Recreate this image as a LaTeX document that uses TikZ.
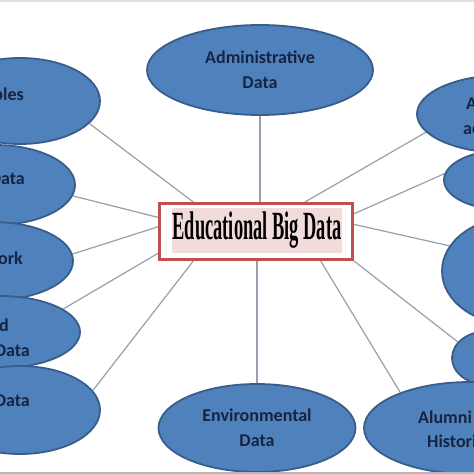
\documentclass[tikz,border=0pt]{standalone}
\usepackage{fontspec}
\setmainfont{Carlito}
\newfontfamily\titlefont{Liberation Serif}
\usetikzlibrary{shapes.geometric,calc,backgrounds}
\definecolor{ellfill}{RGB}{79,129,189}
\definecolor{ellborder}{RGB}{56,93,138}
\definecolor{elltext}{RGB}{22,36,66}
\definecolor{connc}{RGB}{150,160,174}
\definecolor{boxred}{RGB}{192,80,77}
\definecolor{titlepink}{RGB}{242,220,219}
\tikzset{
  ell/.style={ellipse, draw=ellborder, line width=1.8pt, fill=ellfill, inner sep=0pt,
    text=elltext, font=\bfseries\fontsize{18}{25}\selectfont, align=center},
  lbl/.style={text=elltext, font=\bfseries\fontsize{18}{25}\selectfont, inner sep=0pt},
  conn/.style={draw=connc, line width=1.2pt}
}
\begin{document}
\begin{tikzpicture}[x=1pt,y=-1pt]
\path[use as bounding box] (0,0) rectangle (474,474);
\clip (0,0) rectangle (474,474);

% ellipses
\node[ell, minimum width=226pt, minimum height=90pt] (admin) at (260,70) {Administrative\\Data};
\node[ell, minimum width=160pt, minimum height=86pt] (e1) at (20,101) {};
\node[ell, minimum width=160pt, minimum height=80pt] (e2) at (-5,185) {};
\node[ell, minimum width=160pt, minimum height=78pt] (e3) at (-7,261) {};
\node[ell, minimum width=160pt, minimum height=72pt] (e4) at (0,332) {};
\node[ell, minimum width=160pt, minimum height=88pt] (e5) at (20,410) {};
\node[ell, minimum width=176pt, minimum height=78pt] (r1) at (505,114) {};
\node[ell, minimum width=122pt, minimum height=60pt] (r2) at (505,180) {};
\node[ell, minimum width=146pt, minimum height=108pt] (r3) at (515,271) {};
\node[ell, minimum width=72pt, minimum height=54pt] (r4) at (488,358) {};
\node[ell, minimum width=212pt, minimum height=92pt] (alum) at (470,428) {};
\node[ell, minimum width=197pt, minimum height=88pt] (env) at (257,428) {Environmental\\Data};

% central box
\node[draw=boxred, line width=3pt, fill=white, minimum width=193pt, minimum height=56pt, inner sep=0pt] (box) at (256,231.5) {};
\node[fill=titlepink, minimum width=170pt, minimum height=45pt, inner sep=0pt] (title) at (257,230.5)
  {\titlefont\bfseries\fontsize{40}{40}\selectfont\scalebox{0.46}[1]{Educational Big Data}};

% connectors (behind)
\begin{scope}[on background layer]
\fill[white] (0,0) rectangle (474,474);
\draw[conn] (admin.south) -- (admin.south |- box.north);
\draw[conn] (env.north) -- (env.north |- box.south);
\draw[conn] ($(box.north west)!0.18!(box.north east)$) -- (e1.-18);
\draw[conn] ($(box.north west)!0.26!(box.south west)$) -- (e2.-8);
\draw[conn] ($(box.north west)!0.42!(box.south west)$) -- (e3.5);
\draw[conn] ($(box.north west)!0.87!(box.south west)$) -- (e4.20);
\draw[conn] ($(box.south west)!0.18!(box.south east)$) -- (e5.15);
\draw[conn] ($(box.north west)!0.75!(box.north east)$) -- (r1.193);
\draw[conn] ($(box.north east)!0.2!(box.south east)$) -- (r2.174);
\draw[conn] ($(box.north east)!0.38!(box.south east)$) -- (r3.159);
\draw[conn] (box.south east) -- (r4.152);
\draw[conn] ($(box.south west)!0.83!(box.south east)$) -- (alum.153);
\end{scope}

% partial labels (cut at the picture's edges, as in the reference)
\node[lbl, anchor=base east] (t1) at (24,100) {ples};
\node[lbl, anchor=base east] (t2) at (25,184) {Data};
\node[lbl, anchor=base east] (t3) at (23,264) {ork};
\node[lbl, anchor=base east] (t4a) at (9,331) {d};
\node[lbl, anchor=base east] (t4b) at (30,356) {Data};
\node[lbl, anchor=base east] (t5) at (30,406) {Data};
\node[lbl, anchor=base west] (t6a) at (466,109) {A};
\node[lbl, anchor=base west] (t6b) at (463,134) {ac};
\node[lbl, anchor=base west] (t7a) at (418,423) {Alumni};
\node[lbl, anchor=base west] (t7b) at (427,447) {Histori};

% bands
\fill[black!12] (0,0) rectangle (474,2);
\fill[black!28] (0,471.5) rectangle (474,474);
\end{tikzpicture}
\end{document}
